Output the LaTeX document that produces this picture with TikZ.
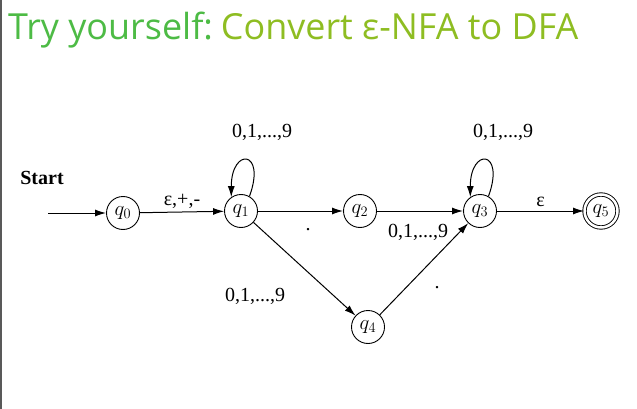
\documentclass[tikz,border=0pt]{standalone}
\usepackage{fontspec}
\setmainfont{Liberation Serif}
\newfontfamily\titlefont{Open Sans}
\usetikzlibrary{arrows.meta}
\definecolor{tgreen}{HTML}{4DBB45}
\definecolor{tyellow}{HTML}{8EBD22}
\begin{document}
\begin{tikzpicture}[x=1pt,y=-1pt,
  st/.style={draw,circle,minimum size=33pt,inner sep=0pt,line width=0.9pt,font=\fontsize{22}{24}\selectfont},
  acc/.style={st,double,double distance=2.5pt},
  tr/.style={-{Latex[length=11pt,width=7pt]},line width=1pt},
  lab/.style={font=\fontsize{20}{22}\selectfont}]
\useasboundingbox (0,0) rectangle (637,409);
\draw[gray!70!black,line width=1.5pt] (1,0) -- (1,409);
\node[anchor=base west,inner sep=0pt] (title) at (8,40)
  {\resizebox{570pt}{!}{\titlefont\color{tgreen}Try yourself:\hspace{0.22em}\color{tyellow}Convert ε-NFA to DFA}};
\node[st] (q0) at (123,213) {$q_0$};
\node[st] (q1) at (241,211) {$q_1$};
\node[st] (q2) at (360,211) {$q_2$};
\node[st] (q3) at (480,211) {$q_3$};
\node[st] (q4) at (368,327) {$q_4$};
\node[acc] (q5) at (601,211) {$q_5$};
\node[lab,font=\fontsize{20}{22}\selectfont\bfseries] (start) at (42,178) {Start};
\coordinate (s) at (48,213);
\draw[tr] (s) -- (q0);
\draw[tr] (q0) -- node[lab,above] {ε,+,-} (q1);
\draw[tr] (q1.60) to[out=70,in=90,looseness=7] (q1.125);
\node[lab] (l1) at (262,132) {0,1,...,9};
\draw[tr] (q1) -- (q2);
\node[lab] (d1) at (308,230) {.};
\draw[tr] (q2) -- (q3);
\node[lab] (l2) at (418,232) {0,1,...,9};
\draw[tr] (q3.60) to[out=70,in=90,looseness=7] (q3.125);
\node[lab] (l3) at (503,132) {0,1,...,9};
\draw[tr] (q3) -- node[lab,above] {ε} (q5);
\draw[tr] (q1) -- (q4);
\node[lab] (l4) at (255,296) {0,1,...,9};
\draw[tr] (q4) -- (q3);
\node[lab] (d2) at (437,288) {.};
\end{tikzpicture}
\end{document}
